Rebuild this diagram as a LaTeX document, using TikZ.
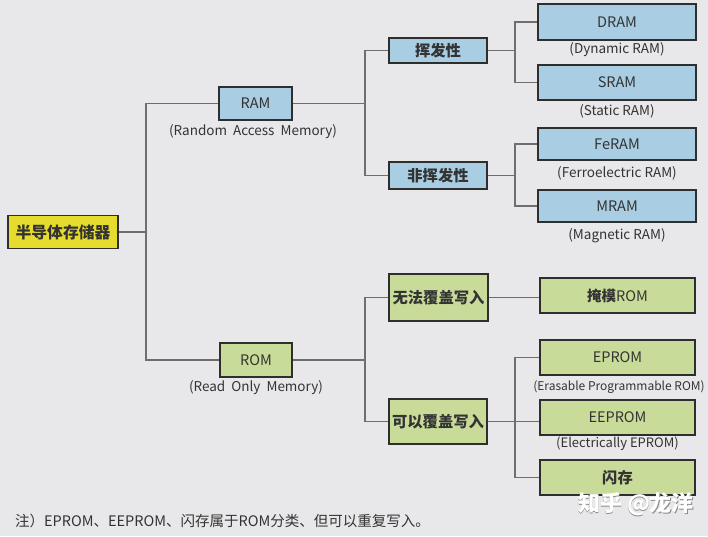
\documentclass[tikz,border=0pt]{standalone}
\usepackage{fontspec}
\setmainfont{Noto Sans CJK SC}
\definecolor{pagebg}{HTML}{E8E8EA}
\definecolor{blueFill}{HTML}{A9CDE2}
\definecolor{greenFill}{HTML}{C9DB98}
\definecolor{yellowFill}{HTML}{E6DC2E}
\definecolor{boxLine}{HTML}{2E2E2E}
\definecolor{connLine}{HTML}{6E6E6E}
\definecolor{txt}{HTML}{333333}
\tikzset{
  box/.style={draw=boxLine, line width=1.8pt, inner sep=0pt, text=txt, font=\fontsize{14.5}{14.5}\selectfont},
  bluebox/.style={box, fill=blueFill},
  greenbox/.style={box, fill=greenFill},
  cjkbox/.style={font=\fontsize{15.3}{15.3}\selectfont\bfseries},
  sub/.style={text=txt, font=\fontsize{13.5}{13.5}\selectfont, inner sep=0pt},
  conn/.style={draw=connLine, line width=1.2pt},
}
\begin{document}
\begin{tikzpicture}[x=1pt, y=-1pt]
\fill[pagebg] (0,0) rectangle (708,536);
\useasboundingbox (0,0) rectangle (708,536);
% nodes
\node[box, fill=yellowFill, cjkbox, minimum width=110pt, minimum height=33pt] (root) at (63,232) {\fontsize{15.8}{15.8}\selectfont 半导体存储器};
\node[bluebox, minimum width=73pt, minimum height=33pt] (ram) at (255.5,103.5) {RAM};
\node[sub] (ramsub) at (253,132) {(Random\ \ Access\ \ Memory)};
\node[greenbox, minimum width=72pt, minimum height=34pt] (rom) at (256,360) {ROM};
\node[sub] (romsub) at (256,388) {(Read\ \ Only\ \ Memory)};
\node[bluebox, cjkbox, minimum width=98pt, minimum height=25pt] (vol) at (438,50.5) {挥发性};
\node[bluebox, cjkbox, minimum width=98pt, minimum height=27pt] (nvol) at (438,175.5) {非挥发性};
\node[bluebox, minimum width=158pt, minimum height=36pt] (dram) at (617,22) {DRAM};
\node[sub] (dramsub) at (617,50) {(Dynamic\ RAM)};
\node[bluebox, minimum width=158pt, minimum height=35pt] (sram) at (617,82.5) {SRAM};
\node[sub] (sramsub) at (617,111.5) {(Static\ RAM)};
\node[bluebox, minimum width=158pt, minimum height=32pt] (feram) at (617,144) {FeRAM};
\node[sub] (feramsub) at (617,173.5) {(Ferroelectric\ RAM)};
\node[bluebox, minimum width=158pt, minimum height=32pt] (mram) at (617,206) {MRAM};
\node[sub] (mramsub) at (617,235.5) {(Magnetic\ RAM)};
\node[greenbox, cjkbox, minimum width=99pt, minimum height=47pt] (now) at (438.5,297.5) {无法覆盖写入};
\node[greenbox, cjkbox, minimum width=98pt, minimum height=45pt] (can) at (438,421.5) {可以覆盖写入};
\node[greenbox, minimum width=155pt, minimum height=35pt] (mask) at (617.5,295.5) {{\bfseries 掩模}ROM};
\node[greenbox, minimum width=155pt, minimum height=35pt] (eprom) at (617.5,357.5) {EPROM};
\node[sub, font=\fontsize{12}{12}\selectfont] (epromsub) at (619,387) {(Erasable\ Programmable\ ROM)};
\node[greenbox, minimum width=155pt, minimum height=35pt] (eeprom) at (617.5,417.5) {EEPROM};
\node[sub, font=\fontsize{13}{13}\selectfont] (eepromsub) at (617.5,443.5) {(Electrically\ EPROM)};
\node[greenbox, cjkbox, minimum width=155pt, minimum height=35pt] (flash) at (617.5,477.5) {闪存};
% junctions
\coordinate (j1) at (146,232);
\coordinate (j2) at (365,103.5);
\coordinate (j3) at (515,50.5);
\coordinate (j4) at (515,175.5);
\coordinate (j5) at (365,360);
\coordinate (j6) at (515,421.5);
% connectors
\draw[conn] (root.east) -- (j1);
\draw[conn] (ram.west) -| (j1) |- (rom.west);
\draw[conn] (ram.east) -- (j2);
\draw[conn] (vol.west) -| (j2) |- (nvol.west);
\draw[conn] (vol.east) -- (j3);
\draw[conn] (dram.west) -| (j3) |- (sram.west);
\draw[conn] (nvol.east) -- (j4);
\draw[conn] (feram.west) -| (j4) |- (mram.west);
\draw[conn] (rom.east) -- (j5);
\draw[conn] (now.west) -| (j5) |- (can.west);
\draw[conn] (now.east) -- (now.east -| mask.west);
\draw[conn] (can.east) -- (j6) -- (j6 -| eeprom.west);
\draw[conn] (eprom.west) -| (j6) |- (flash.west);
% footnote
\node[anchor=west, text=txt, font=\fontsize{14.5}{14.5}\selectfont, inner sep=0pt] (note) at (15,521) {注）EPROM、EEPROM、闪存属于ROM分类、但可以重复写入。};
% watermark
\node[text=black!45, font=\fontsize{22}{22}\selectfont\bfseries, inner sep=0pt] (wmshadow) at (636.8,504.8) {知乎 @龙洋};
\node[text=white, font=\fontsize{22}{22}\selectfont\bfseries, inner sep=0pt] (wm) at (636,504) {知乎 @龙洋};
\end{tikzpicture}
\end{document}
